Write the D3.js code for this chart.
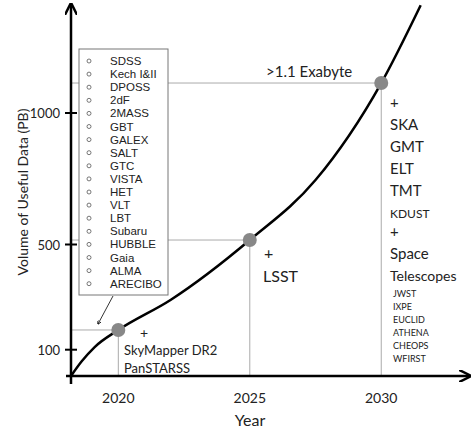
<!DOCTYPE html>
<html><head><meta charset="utf-8">
<script src="https://cdn.jsdelivr.net/npm/d3@7"></script>
<style>body{margin:0;background:#fff}text{font-family:Lato,"Open Sans",sans-serif;fill:#222}</style>
</head><body><svg width="474" height="432"></svg>
<script>
// curve samples (year, PB)
const curveYears = [2018.2, 2018.6, 2019.1, 2020, 2022, 2025, 2027.5, 2030, 2031.5];
const curveValues = [0, 55, 110, 175, 290, 517, 745, 1114, 1410];
const milestoneYears = [2020, 2025, 2030];
const milestoneValues = [175, 517, 1114];
const yTicks = [100, 500, 1000];
const xTicks = [2020, 2025, 2030];
const telescopes = ['SDSS','Kech I&II','DPOSS','2dF','2MASS','GBT','GALEX','SALT','GTC','VISTA','HET','VLT','LBT','Subaru','HUBBLE','Gaia','ALMA','ARECIBO'];
const future = [['+',15],['SKA',15],['GMT',15],['ELT',15],['TMT',15],['KDUST',12],['+',15],['Space',15],['Telescopes',14]];
const space = ['JWST','IXPE','EUCLID','ATHENA','CHEOPS','WFIRST'];

const svg = d3.select('svg');
const x = d3.scaleLinear().domain([2018.2, 2033.3]).range([71, 468]);
const y = d3.scaleLinear().domain([0, 1000]).range([376, 113]);
const gray = '#aaa';

// guide lines
milestoneYears.forEach((yr, i) => {
  svg.append('line').attr('x1', 71).attr('x2', x(yr)).attr('y1', y(milestoneValues[i])).attr('y2', y(milestoneValues[i])).attr('stroke', gray);
  svg.append('line').attr('x1', x(yr)).attr('x2', x(yr)).attr('y1', y(milestoneValues[i])).attr('y2', 376).attr('stroke', gray);
});

// axes
svg.append('defs').append('marker').attr('id', 'ah').attr('viewBox', '0 0 10 10').attr('refX', 9).attr('refY', 5)
  .attr('markerWidth', 5).attr('markerHeight', 5).attr('orient', 'auto')
  .append('path').attr('d', 'M0,0L10,5L0,10').attr('fill', 'none').attr('stroke', '#000').attr('stroke-width', 2);
svg.append('line').attr('x1', 71).attr('y1', 384).attr('x2', 71).attr('y2', 4).attr('stroke', '#000').attr('stroke-width', 2.5).attr('marker-end', 'url(#ah)');
svg.append('line').attr('x1', 66).attr('y1', 376).attr('x2', 470).attr('y2', 376).attr('stroke', '#000').attr('stroke-width', 2.5).attr('marker-end', 'url(#ah)');

yTicks.forEach(t => {
  svg.append('line').attr('x1', 65).attr('x2', 77).attr('y1', y(t)).attr('y2', y(t)).attr('stroke', '#000').attr('stroke-width', 2);
  svg.append('text').attr('x', 60).attr('y', y(t) + 5).attr('text-anchor', 'end').attr('font-size', 13).text(t);
});
xTicks.forEach(t => {
  svg.append('text').attr('x', x(t)).attr('y', 403).attr('text-anchor', 'middle').attr('font-size', 14).text(t);
});
svg.append('text').attr('x', 250).attr('y', 426).attr('text-anchor', 'middle').attr('font-size', 16).text('Year');
svg.append('text').attr('transform', 'translate(28,192) rotate(-90)').attr('text-anchor', 'middle').attr('font-size', 14).text('Volume of Useful Data (PB)');

// curve
const line = d3.line().x((d, i) => x(curveYears[i])).y(d => y(d)).curve(d3.curveMonotoneX);
svg.append('path').attr('d', line(curveValues)).attr('fill', 'none').attr('stroke', '#000').attr('stroke-width', 2.5);
milestoneYears.forEach((yr, i) => {
  svg.append('circle').attr('cx', x(yr)).attr('cy', y(milestoneValues[i])).attr('r', 7).attr('fill', '#888');
});

// legend box
svg.append('rect').attr('x', 79).attr('y', 49).attr('width', 89).attr('height', 246).attr('fill', '#fff').attr('stroke', '#777');
telescopes.forEach((t, i) => {
  const ty = 61 + i * 13.1;
  svg.append('circle').attr('cx', 89).attr('cy', ty).attr('r', 2).attr('fill', 'none').attr('stroke', '#555').attr('stroke-width', 0.8);
  svg.append('text').attr('x', 110).attr('y', ty + 4).attr('font-size', 11.5).style('font-family', 'Liberation Sans, Arial').text(t);
});
svg.append('line').attr('x1', 113).attr('y1', 296).attr('x2', 98).attr('y2', 324).attr('stroke', '#000').attr('stroke-width', 0.8).attr('marker-end', 'url(#ah)');

// annotations
svg.append('text').attr('x', 266).attr('y', 77).attr('font-size', 15).text('>1.1 Exabyte');
svg.append('text').attr('x', 140).attr('y', 338).attr('font-size', 14).text('+');
svg.append('text').attr('x', 124).attr('y', 355).attr('font-size', 13).text('SkyMapper DR2');
svg.append('text').attr('x', 124).attr('y', 373).attr('font-size', 13).text('PanSTARSS');
svg.append('text').attr('x', 264).attr('y', 259).attr('font-size', 16).text('+');
svg.append('text').attr('x', 263).attr('y', 282).attr('font-size', 16).text('LSST');
let fy = 108;
future.forEach(([t, s]) => {
  svg.append('text').attr('x', 390).attr('y', fy).attr('font-size', s).text(t);
  fy += s === 12 ? 19 : 22;
});
space.forEach((t, i) => {
  svg.append('text').attr('x', 393).attr('y', 297 + i * 13).attr('font-size', 9).text(t);
});
</script></body></html>
